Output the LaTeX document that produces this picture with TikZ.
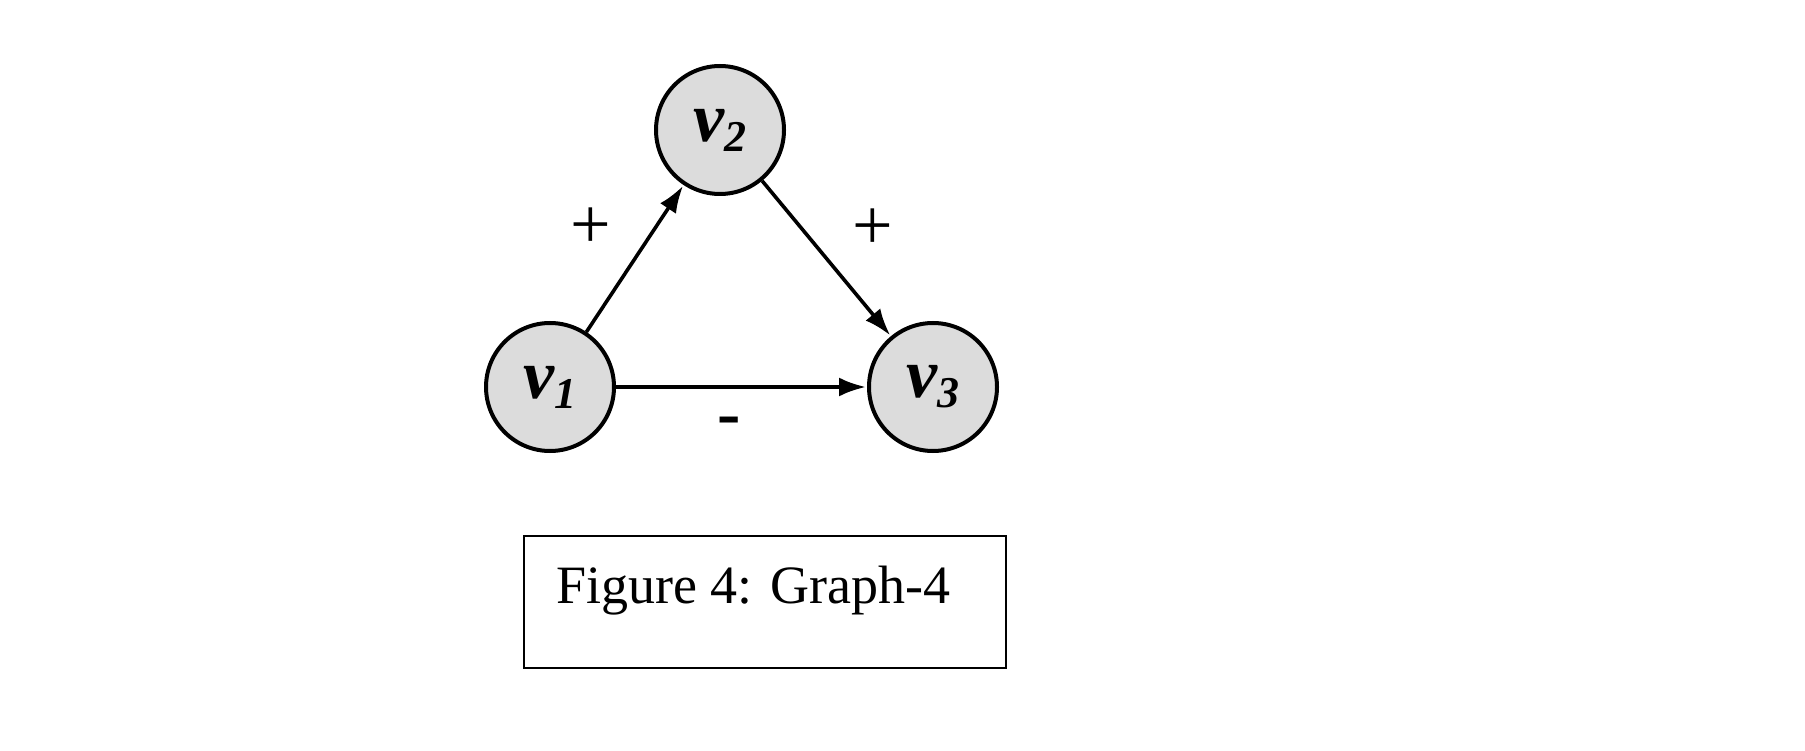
\documentclass[tikz,border=0pt]{standalone}
\usepackage{fontspec}
\setmainfont{Liberation Serif}
\usetikzlibrary{arrows.meta}
\definecolor{nodegray}{HTML}{DCDCDC}
\begin{document}
\begin{tikzpicture}[x=1pt,y=-1pt,
  vertex/.style={circle,draw=black,line width=4pt,fill=nodegray,minimum size=128pt,inner sep=0pt},
  edge/.style={line width=3.6pt,-{Latex[length=27pt,width=19pt]},shorten >=1pt},
  sign/.style={inner sep=0pt,font=\fontsize{72}{72}\selectfont}]
\useasboundingbox (0,0) rectangle (1805,751);
\newcommand{\vlab}[1]{{\fontsize{70}{70}\selectfont\bfseries\itshape v}\kern-1pt\raisebox{-10pt}{\fontsize{44}{44}\selectfont\bfseries\itshape #1}}
\node[vertex] (v1) at (550,387) {\vlab{1}};
\node[vertex] (v2) at (720,130) {\vlab{2}};
\node[vertex] (v3) at (933,387) {\vlab{3}};
\draw[edge] (v1) -- (v2);
\draw[edge] (v2) -- (v3);
\draw[edge] (v1) -- (v3);
\node[sign] (p1) at (591,228) {+};
\node[sign] (p2) at (873,229) {+};
\node[sign,font=\fontsize{70}{70}\selectfont\bfseries] (m1) at (729,427) {-};
\node[draw=black,line width=2.4pt,minimum width=482pt,minimum height=132pt,anchor=north west,inner sep=0pt] (box) at (523,535) {};
\node[anchor=base west,inner sep=0pt,font=\fontsize{54}{54}\selectfont] (cap) at (556,603) {Figure 4: Graph-4};
\end{tikzpicture}
\end{document}
